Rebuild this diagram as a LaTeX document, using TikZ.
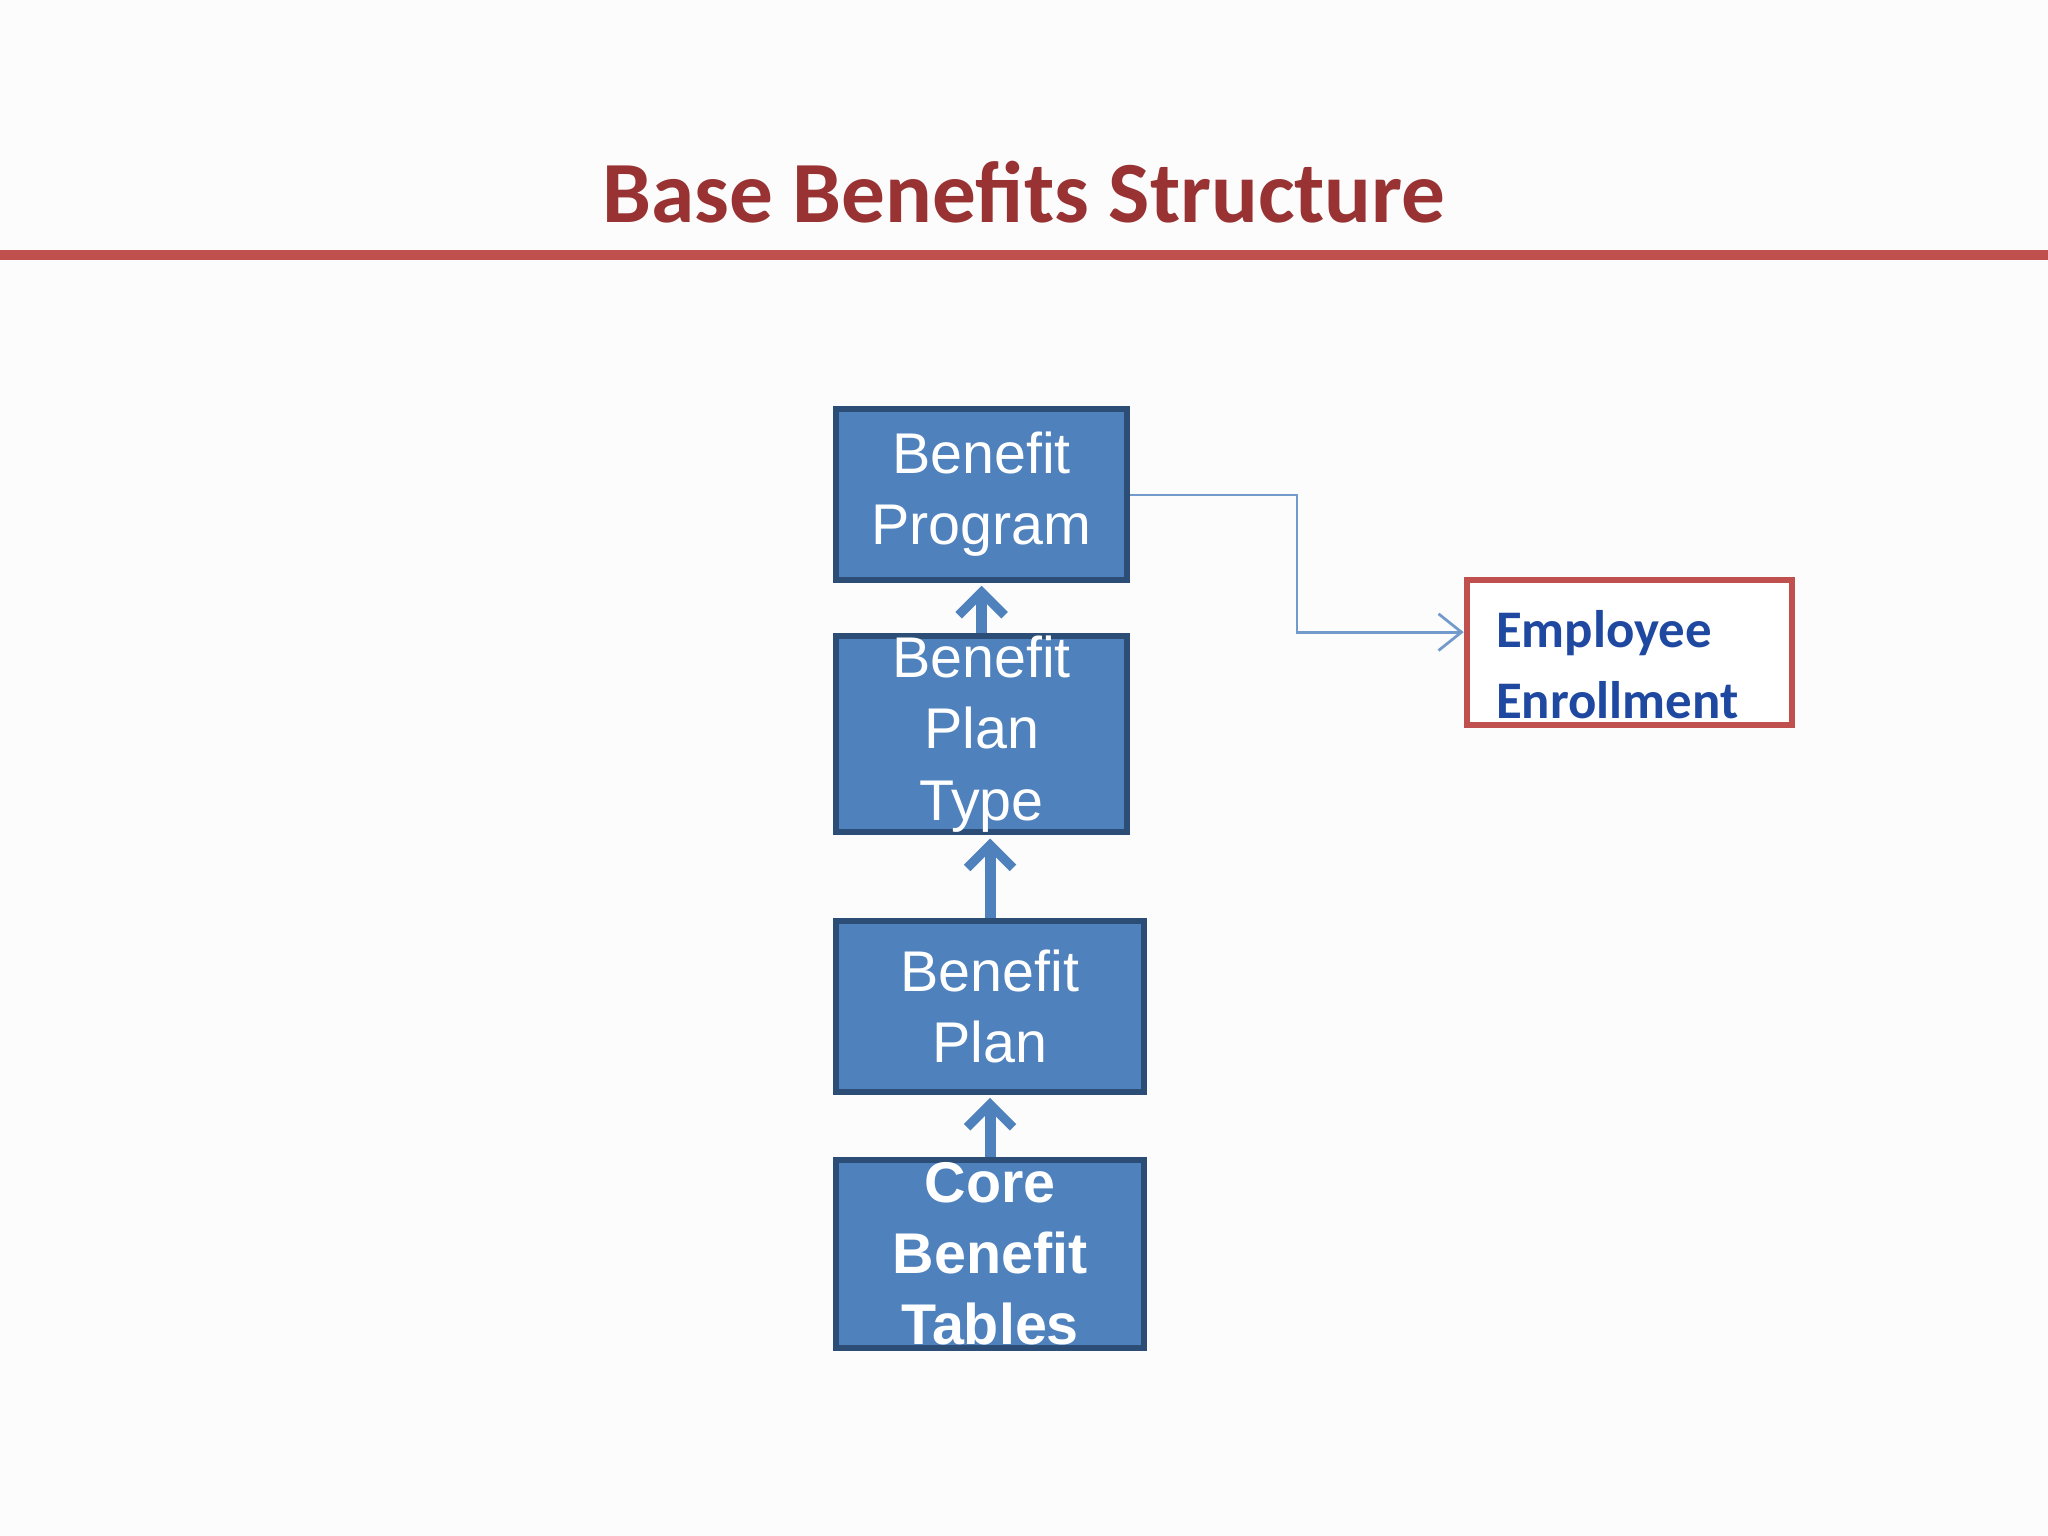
\documentclass[tikz,border=0pt]{standalone}
\usepackage{fontspec}
\setmainfont{Liberation Sans}
\newfontfamily\calib{Carlito}
\usetikzlibrary{arrows.meta}
\definecolor{boxblue}{RGB}{79,129,189}
\definecolor{boxedge}{RGB}{44,77,117}
\definecolor{titlered}{RGB}{153,51,51}
\definecolor{linered}{RGB}{192,80,77}
\definecolor{enroll}{RGB}{31,73,160}
\tikzset{
 bbox/.style={draw=boxedge,line width=1.4pt,fill=boxblue,text=white,align=center,font=\fontsize{12.5}{15.5}\selectfont,inner sep=0pt},
 uparrow/.style={draw=boxblue,line width=2.4pt,-{Straight Barb[length=5pt,width=10pt,line width=2pt]}},
}
\begin{document}
\begin{tikzpicture}[x=0.01cm,y=-0.01cm]
\useasboundingbox[fill=white!98!gray] (0,0) rectangle (1568,1176);
\node[font=\calib\bfseries\fontsize{19}{23}\selectfont,text=titlered] (title) at (784,147) {Base Benefits Structure};
\draw[linered,line width=2.2pt] (0,195) -- (1568,195);
\node[bbox,minimum width=2.23cm,minimum height=1.31cm] (prog) at (751.5,378.5) {Benefit\\Program};
\node[bbox,minimum width=2.23cm,minimum height=1.32cm] (ptype) at (751.5,562) {Benefit\\Plan\\Type};
\node[bbox,minimum width=2.36cm,minimum height=1.31cm] (plan) at (758,770.5) {Benefit\\Plan};
\node[bbox,minimum width=2.36cm,minimum height=1.44cm,font=\bfseries\fontsize{12.5}{15.5}\selectfont] (core) at (758,960) {Core\\Benefit\\Tables};
\node[draw=linered,line width=1.3pt,fill=white,minimum width=2.49cm,minimum height=1.11cm,inner sep=0pt] (emp) at (1247.5,499.5) {};
\node[anchor=north west,align=left,text=enroll,font=\calib\bfseries\fontsize{11.5}{15.5}\selectfont] (emptext) at (1133,455) {Employee\\Enrollment};
\coordinate (c1) at (993,379);
\coordinate (c2) at (993,484);
\draw[boxblue!80,line width=0.6pt,-{Straight Barb[length=5pt,width=8pt]}] (prog.east |- c1) -- (c1) -- (c2) -- (emp.west |- c2);
\draw[uparrow] (ptype.north) -- ([yshift=-0.02cm]prog.south);
\draw[uparrow] (plan.north) -- (758,642);
\draw[uparrow] (core.north) -- ([yshift=-0.02cm]plan.south);
\end{tikzpicture}
\end{document}
